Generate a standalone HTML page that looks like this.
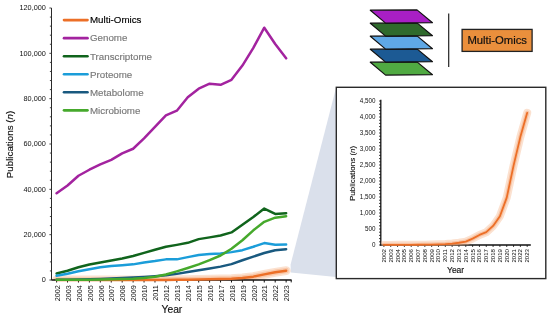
<!DOCTYPE html>
<html><head><meta charset="utf-8"><title>Multi-Omics publications</title>
<style>html,body{margin:0;padding:0;background:#fff}svg{display:block}svg text{font-family:"Liberation Sans",sans-serif}</style></head>
<body>
<svg width="550" height="318" viewBox="0 0 550 318">
<rect width="550" height="318" fill="#fff"/>
<polygon points="290.6,264.5 335.8,88.8 336,277 290.8,272.4" fill="#DAE0EB"/>
<line x1="51.5" y1="8" x2="51.5" y2="280.0" stroke="#2a2a2a" stroke-width="1"/>
<defs><clipPath id="cm"><rect x="52" y="0" width="245" height="280.6"/></clipPath><clipPath id="ci"><rect x="381" y="90" width="160" height="155.4"/></clipPath></defs>
<line x1="49.4" y1="280.00" x2="51.5" y2="280.00" stroke="#333" stroke-width="0.9"/>
<line x1="49.9" y1="270.93" x2="51.5" y2="270.93" stroke="#333" stroke-width="0.9"/>
<line x1="49.9" y1="261.87" x2="51.5" y2="261.87" stroke="#333" stroke-width="0.9"/>
<line x1="49.9" y1="252.80" x2="51.5" y2="252.80" stroke="#333" stroke-width="0.9"/>
<line x1="49.9" y1="243.73" x2="51.5" y2="243.73" stroke="#333" stroke-width="0.9"/>
<line x1="49.4" y1="234.67" x2="51.5" y2="234.67" stroke="#333" stroke-width="0.9"/>
<line x1="49.9" y1="225.60" x2="51.5" y2="225.60" stroke="#333" stroke-width="0.9"/>
<line x1="49.9" y1="216.53" x2="51.5" y2="216.53" stroke="#333" stroke-width="0.9"/>
<line x1="49.9" y1="207.47" x2="51.5" y2="207.47" stroke="#333" stroke-width="0.9"/>
<line x1="49.9" y1="198.40" x2="51.5" y2="198.40" stroke="#333" stroke-width="0.9"/>
<line x1="49.4" y1="189.33" x2="51.5" y2="189.33" stroke="#333" stroke-width="0.9"/>
<line x1="49.9" y1="180.27" x2="51.5" y2="180.27" stroke="#333" stroke-width="0.9"/>
<line x1="49.9" y1="171.20" x2="51.5" y2="171.20" stroke="#333" stroke-width="0.9"/>
<line x1="49.9" y1="162.13" x2="51.5" y2="162.13" stroke="#333" stroke-width="0.9"/>
<line x1="49.9" y1="153.07" x2="51.5" y2="153.07" stroke="#333" stroke-width="0.9"/>
<line x1="49.4" y1="144.00" x2="51.5" y2="144.00" stroke="#333" stroke-width="0.9"/>
<line x1="49.9" y1="134.93" x2="51.5" y2="134.93" stroke="#333" stroke-width="0.9"/>
<line x1="49.9" y1="125.87" x2="51.5" y2="125.87" stroke="#333" stroke-width="0.9"/>
<line x1="49.9" y1="116.80" x2="51.5" y2="116.80" stroke="#333" stroke-width="0.9"/>
<line x1="49.9" y1="107.73" x2="51.5" y2="107.73" stroke="#333" stroke-width="0.9"/>
<line x1="49.4" y1="98.67" x2="51.5" y2="98.67" stroke="#333" stroke-width="0.9"/>
<line x1="49.9" y1="89.60" x2="51.5" y2="89.60" stroke="#333" stroke-width="0.9"/>
<line x1="49.9" y1="80.53" x2="51.5" y2="80.53" stroke="#333" stroke-width="0.9"/>
<line x1="49.9" y1="71.47" x2="51.5" y2="71.47" stroke="#333" stroke-width="0.9"/>
<line x1="49.9" y1="62.40" x2="51.5" y2="62.40" stroke="#333" stroke-width="0.9"/>
<line x1="49.4" y1="53.33" x2="51.5" y2="53.33" stroke="#333" stroke-width="0.9"/>
<line x1="49.9" y1="44.27" x2="51.5" y2="44.27" stroke="#333" stroke-width="0.9"/>
<line x1="49.9" y1="35.20" x2="51.5" y2="35.20" stroke="#333" stroke-width="0.9"/>
<line x1="49.9" y1="26.13" x2="51.5" y2="26.13" stroke="#333" stroke-width="0.9"/>
<line x1="49.9" y1="17.07" x2="51.5" y2="17.07" stroke="#333" stroke-width="0.9"/>
<line x1="49.4" y1="8.00" x2="51.5" y2="8.00" stroke="#333" stroke-width="0.9"/>
<text x="45.9" y="282.20" font-size="7.3" text-anchor="end" fill="#111">0</text>
<text x="45.9" y="236.87" font-size="7.3" text-anchor="end" fill="#111">20,000</text>
<text x="45.9" y="191.53" font-size="7.3" text-anchor="end" fill="#111">40,000</text>
<text x="45.9" y="146.20" font-size="7.3" text-anchor="end" fill="#111">60,000</text>
<text x="45.9" y="100.87" font-size="7.3" text-anchor="end" fill="#111">80,000</text>
<text x="45.9" y="55.53" font-size="7.3" text-anchor="end" fill="#111">100,000</text>
<text x="45.9" y="10.20" font-size="7.3" text-anchor="end" fill="#111">120,000</text>
<line x1="56.60" y1="280.0" x2="56.60" y2="282.5" stroke="#111" stroke-width="1"/>
<text transform="translate(59.80,285.2) rotate(-90)" font-size="7.2" text-anchor="end" fill="#111">2002</text>
<line x1="67.53" y1="280.0" x2="67.53" y2="282.5" stroke="#111" stroke-width="1"/>
<text transform="translate(70.73,285.2) rotate(-90)" font-size="7.2" text-anchor="end" fill="#111">2003</text>
<line x1="78.46" y1="280.0" x2="78.46" y2="282.5" stroke="#111" stroke-width="1"/>
<text transform="translate(81.66,285.2) rotate(-90)" font-size="7.2" text-anchor="end" fill="#111">2004</text>
<line x1="89.39" y1="280.0" x2="89.39" y2="282.5" stroke="#111" stroke-width="1"/>
<text transform="translate(92.59,285.2) rotate(-90)" font-size="7.2" text-anchor="end" fill="#111">2005</text>
<line x1="100.32" y1="280.0" x2="100.32" y2="282.5" stroke="#111" stroke-width="1"/>
<text transform="translate(103.52,285.2) rotate(-90)" font-size="7.2" text-anchor="end" fill="#111">2006</text>
<line x1="111.25" y1="280.0" x2="111.25" y2="282.5" stroke="#111" stroke-width="1"/>
<text transform="translate(114.45,285.2) rotate(-90)" font-size="7.2" text-anchor="end" fill="#111">2007</text>
<line x1="122.18" y1="280.0" x2="122.18" y2="282.5" stroke="#111" stroke-width="1"/>
<text transform="translate(125.38,285.2) rotate(-90)" font-size="7.2" text-anchor="end" fill="#111">2008</text>
<line x1="133.11" y1="280.0" x2="133.11" y2="282.5" stroke="#111" stroke-width="1"/>
<text transform="translate(136.31,285.2) rotate(-90)" font-size="7.2" text-anchor="end" fill="#111">2009</text>
<line x1="144.04" y1="280.0" x2="144.04" y2="282.5" stroke="#111" stroke-width="1"/>
<text transform="translate(147.24,285.2) rotate(-90)" font-size="7.2" text-anchor="end" fill="#111">2010</text>
<line x1="154.97" y1="280.0" x2="154.97" y2="282.5" stroke="#111" stroke-width="1"/>
<text transform="translate(158.17,285.2) rotate(-90)" font-size="7.2" text-anchor="end" fill="#111">2011</text>
<line x1="165.90" y1="280.0" x2="165.90" y2="282.5" stroke="#111" stroke-width="1"/>
<text transform="translate(169.10,285.2) rotate(-90)" font-size="7.2" text-anchor="end" fill="#111">2012</text>
<line x1="176.83" y1="280.0" x2="176.83" y2="282.5" stroke="#111" stroke-width="1"/>
<text transform="translate(180.03,285.2) rotate(-90)" font-size="7.2" text-anchor="end" fill="#111">2013</text>
<line x1="187.76" y1="280.0" x2="187.76" y2="282.5" stroke="#111" stroke-width="1"/>
<text transform="translate(190.96,285.2) rotate(-90)" font-size="7.2" text-anchor="end" fill="#111">2014</text>
<line x1="198.69" y1="280.0" x2="198.69" y2="282.5" stroke="#111" stroke-width="1"/>
<text transform="translate(201.89,285.2) rotate(-90)" font-size="7.2" text-anchor="end" fill="#111">2015</text>
<line x1="209.62" y1="280.0" x2="209.62" y2="282.5" stroke="#111" stroke-width="1"/>
<text transform="translate(212.82,285.2) rotate(-90)" font-size="7.2" text-anchor="end" fill="#111">2016</text>
<line x1="220.55" y1="280.0" x2="220.55" y2="282.5" stroke="#111" stroke-width="1"/>
<text transform="translate(223.75,285.2) rotate(-90)" font-size="7.2" text-anchor="end" fill="#111">2017</text>
<line x1="231.48" y1="280.0" x2="231.48" y2="282.5" stroke="#111" stroke-width="1"/>
<text transform="translate(234.68,285.2) rotate(-90)" font-size="7.2" text-anchor="end" fill="#111">2018</text>
<line x1="242.41" y1="280.0" x2="242.41" y2="282.5" stroke="#111" stroke-width="1"/>
<text transform="translate(245.61,285.2) rotate(-90)" font-size="7.2" text-anchor="end" fill="#111">2019</text>
<line x1="253.34" y1="280.0" x2="253.34" y2="282.5" stroke="#111" stroke-width="1"/>
<text transform="translate(256.54,285.2) rotate(-90)" font-size="7.2" text-anchor="end" fill="#111">2020</text>
<line x1="264.27" y1="280.0" x2="264.27" y2="282.5" stroke="#111" stroke-width="1"/>
<text transform="translate(267.47,285.2) rotate(-90)" font-size="7.2" text-anchor="end" fill="#111">2021</text>
<line x1="275.20" y1="280.0" x2="275.20" y2="282.5" stroke="#111" stroke-width="1"/>
<text transform="translate(278.40,285.2) rotate(-90)" font-size="7.2" text-anchor="end" fill="#111">2022</text>
<line x1="286.13" y1="280.0" x2="286.13" y2="282.5" stroke="#111" stroke-width="1"/>
<text transform="translate(289.33,285.2) rotate(-90)" font-size="7.2" text-anchor="end" fill="#111">2023</text>
<text transform="translate(13.1,144.5) rotate(-90)" font-size="9.8" text-anchor="middle" fill="#111" stroke="#111" stroke-width="0.15">Publications (<tspan font-style="italic">n</tspan>)</text>
<text x="171.9" y="313.4" font-size="10.3" text-anchor="middle" fill="#111" stroke="#111" stroke-width="0.15">Year</text>
<g clip-path="url(#cm)"><polyline points="56.60,280.00 67.53,279.99 78.46,279.99 89.39,279.99 100.32,279.99 111.25,279.98 122.18,279.98 133.11,279.97 144.04,279.95 154.97,279.93 165.90,279.90 176.83,279.84 187.76,279.76 198.69,279.55 209.62,279.29 220.55,279.09 231.48,278.65 242.41,277.96 253.34,276.65 264.27,274.38 275.20,272.34 286.13,270.64" fill="none" stroke="#F6B48A" stroke-opacity="0.4" stroke-width="9" stroke-linecap="round" stroke-linejoin="round"/>
<polyline points="56.60,280.00 67.53,279.99 78.46,279.99 89.39,279.99 100.32,279.99 111.25,279.98 122.18,279.98 133.11,279.97 144.04,279.95 154.97,279.93 165.90,279.90 176.83,279.84 187.76,279.76 198.69,279.55 209.62,279.29 220.55,279.09 231.48,278.65 242.41,277.96 253.34,276.65 264.27,274.38 275.20,272.34 286.13,270.64" fill="none" stroke="#F6A878" stroke-opacity="0.45" stroke-width="5.5" stroke-linecap="round" stroke-linejoin="round"/></g>
<line x1="51.4" y1="280.0" x2="291.6" y2="280.0" stroke="#111" stroke-width="1.5"/><line x1="291.2" y1="280.0" x2="291.2" y2="282.4" stroke="#111" stroke-width="1"/>
<polyline points="56.60,280.00 67.53,279.99 78.46,279.99 89.39,279.99 100.32,279.99 111.25,279.98 122.18,279.98 133.11,279.97 144.04,279.95 154.97,279.93 165.90,279.90 176.83,279.84 187.76,279.76 198.69,279.55 209.62,279.29 220.55,279.09 231.48,278.65 242.41,277.96 253.34,276.65 264.27,274.38 275.20,272.34 286.13,270.64" fill="none" stroke="#EC6F27" stroke-width="2.5" stroke-linecap="round" stroke-linejoin="round"/>
<polyline points="56.60,193.30 67.53,185.48 78.46,175.73 89.39,169.73 100.32,164.40 111.25,159.87 122.18,153.41 133.11,148.76 144.04,138.33 154.97,126.77 165.90,115.44 176.83,110.68 187.76,97.31 198.69,88.69 209.62,83.71 220.55,84.84 231.48,79.85 242.41,65.57 253.34,47.89 264.27,27.72 275.20,44.04 286.13,58.32" fill="none" stroke="#A3239F" stroke-width="2.5" stroke-linecap="round" stroke-linejoin="round"/>
<polyline points="56.60,273.54 67.53,270.71 78.46,267.31 89.39,264.47 100.32,262.50 111.25,260.51 122.18,258.53 133.11,256.00 144.04,252.89 154.97,249.76 165.90,246.68 176.83,244.87 187.76,242.83 198.69,239.11 209.62,237.39 220.55,235.46 231.48,232.40 242.41,224.69 253.34,216.99 264.27,208.60 275.20,213.93 286.13,213.13" fill="none" stroke="#10641C" stroke-width="2.5" stroke-linecap="round" stroke-linejoin="round"/>
<polyline points="56.60,275.81 67.53,273.81 78.46,271.27 89.39,269.30 100.32,267.31 111.25,265.90 122.18,265.15 133.11,264.36 144.04,262.43 154.97,261.07 165.90,259.37 176.83,259.37 187.76,257.11 198.69,255.07 209.62,254.05 220.55,253.48 231.48,252.12 242.41,250.15 253.34,246.75 264.27,243.08 275.20,244.78 286.13,244.50" fill="none" stroke="#1B9DD9" stroke-width="2.5" stroke-linecap="round" stroke-linejoin="round"/>
<polyline points="56.60,279.77 67.53,279.66 78.46,279.50 89.39,279.27 100.32,278.98 111.25,278.59 122.18,278.07 133.11,277.55 144.04,276.94 154.97,276.15 165.90,275.24 176.83,273.88 187.76,272.07 198.69,270.25 209.62,268.55 220.55,266.63 231.48,264.13 242.41,260.28 253.34,256.65 264.27,253.03 275.20,250.19 286.13,249.17" fill="none" stroke="#19597F" stroke-width="2.5" stroke-linecap="round" stroke-linejoin="round"/>
<polyline points="56.60,279.86 67.53,279.82 78.46,279.75 89.39,279.66 100.32,279.52 111.25,279.32 122.18,279.05 133.11,278.64 144.04,277.96 154.97,276.83 165.90,274.56 176.83,271.39 187.76,267.99 198.69,264.36 209.62,260.17 220.55,255.52 231.48,248.72 242.41,240.24 253.34,230.36 264.27,221.86 275.20,217.67 286.13,216.19" fill="none" stroke="#46A92C" stroke-width="2.5" stroke-linecap="round" stroke-linejoin="round"/>
<line x1="64" y1="20.10" x2="87.5" y2="20.10" stroke="#EC6F27" stroke-width="2.6" stroke-linecap="round"/>
<text x="90" y="23.40" font-size="9.75" fill="#000" stroke="#000" stroke-width="0.15">Multi-Omics</text>
<line x1="64" y1="38.15" x2="87.5" y2="38.15" stroke="#A3239F" stroke-width="2.6" stroke-linecap="round"/>
<text x="90" y="41.45" font-size="9.75" fill="#787878" stroke="#787878" stroke-width="0.15">Genome</text>
<line x1="64" y1="56.20" x2="87.5" y2="56.20" stroke="#10641C" stroke-width="2.6" stroke-linecap="round"/>
<text x="90" y="59.50" font-size="9.75" fill="#787878" stroke="#787878" stroke-width="0.15">Transcriptome</text>
<line x1="64" y1="74.25" x2="87.5" y2="74.25" stroke="#1B9DD9" stroke-width="2.6" stroke-linecap="round"/>
<text x="90" y="77.55" font-size="9.75" fill="#787878" stroke="#787878" stroke-width="0.15">Proteome</text>
<line x1="64" y1="92.30" x2="87.5" y2="92.30" stroke="#19597F" stroke-width="2.6" stroke-linecap="round"/>
<text x="90" y="95.60" font-size="9.75" fill="#787878" stroke="#787878" stroke-width="0.15">Metabolome</text>
<line x1="64" y1="110.35" x2="87.5" y2="110.35" stroke="#46A92C" stroke-width="2.6" stroke-linecap="round"/>
<text x="90" y="113.65" font-size="9.75" fill="#787878" stroke="#787878" stroke-width="0.15">Microbiome</text>
<polygon points="370.3,62.2 417,61.9 432.5,74.7 385.6,75.1" fill="#50AA42" stroke="#111" stroke-width="1.2" stroke-linejoin="round"/>
<polygon points="370.3,49.2 417,48.9 432.5,61.7 385.6,62.1" fill="#1C5A94" stroke="#111" stroke-width="1.2" stroke-linejoin="round"/>
<polygon points="370.3,36.2 417,35.9 432.5,48.7 385.6,49.1" fill="#5FA8E6" stroke="#111" stroke-width="1.2" stroke-linejoin="round"/>
<polygon points="370.3,23.2 417,22.9 432.5,35.7 385.6,36.1" fill="#2F6A2C" stroke="#111" stroke-width="1.2" stroke-linejoin="round"/>
<polygon points="370.3,10.2 417,9.9 432.5,22.7 385.6,23.1" fill="#A81FC4" stroke="#111" stroke-width="1.2" stroke-linejoin="round"/>
<line x1="448.7" y1="13.5" x2="448.7" y2="67" stroke="#222" stroke-width="1.2"/>
<rect x="462.1" y="29.4" width="70" height="22" fill="#EA8F3C" stroke="#222" stroke-width="1.3"/>
<text x="497.2" y="44.3" font-size="11.3" text-anchor="middle" fill="#111" stroke="#111" stroke-width="0.2">Multi-Omics</text>
<rect x="336.3" y="87.3" width="209.5" height="191.3" fill="#fff" stroke="#2a2a2a" stroke-width="1.4"/>
<line x1="380.8" y1="99.7" x2="380.8" y2="245.6" stroke="#111" stroke-width="1.3"/>
<line x1="380.2" y1="245.0" x2="530.8" y2="245.0" stroke="#111" stroke-width="1.3"/>
<line x1="379" y1="245.00" x2="380.8" y2="245.00" stroke="#111" stroke-width="0.8"/>
<line x1="379" y1="241.80" x2="380.8" y2="241.80" stroke="#111" stroke-width="0.8"/>
<line x1="379" y1="238.60" x2="380.8" y2="238.60" stroke="#111" stroke-width="0.8"/>
<line x1="379" y1="235.40" x2="380.8" y2="235.40" stroke="#111" stroke-width="0.8"/>
<line x1="379" y1="232.20" x2="380.8" y2="232.20" stroke="#111" stroke-width="0.8"/>
<line x1="379" y1="229.00" x2="380.8" y2="229.00" stroke="#111" stroke-width="0.8"/>
<line x1="379" y1="225.80" x2="380.8" y2="225.80" stroke="#111" stroke-width="0.8"/>
<line x1="379" y1="222.60" x2="380.8" y2="222.60" stroke="#111" stroke-width="0.8"/>
<line x1="379" y1="219.40" x2="380.8" y2="219.40" stroke="#111" stroke-width="0.8"/>
<line x1="379" y1="216.20" x2="380.8" y2="216.20" stroke="#111" stroke-width="0.8"/>
<line x1="379" y1="213.00" x2="380.8" y2="213.00" stroke="#111" stroke-width="0.8"/>
<line x1="379" y1="209.80" x2="380.8" y2="209.80" stroke="#111" stroke-width="0.8"/>
<line x1="379" y1="206.60" x2="380.8" y2="206.60" stroke="#111" stroke-width="0.8"/>
<line x1="379" y1="203.40" x2="380.8" y2="203.40" stroke="#111" stroke-width="0.8"/>
<line x1="379" y1="200.20" x2="380.8" y2="200.20" stroke="#111" stroke-width="0.8"/>
<line x1="379" y1="197.00" x2="380.8" y2="197.00" stroke="#111" stroke-width="0.8"/>
<line x1="379" y1="193.80" x2="380.8" y2="193.80" stroke="#111" stroke-width="0.8"/>
<line x1="379" y1="190.60" x2="380.8" y2="190.60" stroke="#111" stroke-width="0.8"/>
<line x1="379" y1="187.40" x2="380.8" y2="187.40" stroke="#111" stroke-width="0.8"/>
<line x1="379" y1="184.20" x2="380.8" y2="184.20" stroke="#111" stroke-width="0.8"/>
<line x1="379" y1="181.00" x2="380.8" y2="181.00" stroke="#111" stroke-width="0.8"/>
<line x1="379" y1="177.80" x2="380.8" y2="177.80" stroke="#111" stroke-width="0.8"/>
<line x1="379" y1="174.60" x2="380.8" y2="174.60" stroke="#111" stroke-width="0.8"/>
<line x1="379" y1="171.40" x2="380.8" y2="171.40" stroke="#111" stroke-width="0.8"/>
<line x1="379" y1="168.20" x2="380.8" y2="168.20" stroke="#111" stroke-width="0.8"/>
<line x1="379" y1="165.00" x2="380.8" y2="165.00" stroke="#111" stroke-width="0.8"/>
<line x1="379" y1="161.80" x2="380.8" y2="161.80" stroke="#111" stroke-width="0.8"/>
<line x1="379" y1="158.60" x2="380.8" y2="158.60" stroke="#111" stroke-width="0.8"/>
<line x1="379" y1="155.40" x2="380.8" y2="155.40" stroke="#111" stroke-width="0.8"/>
<line x1="379" y1="152.20" x2="380.8" y2="152.20" stroke="#111" stroke-width="0.8"/>
<line x1="379" y1="149.00" x2="380.8" y2="149.00" stroke="#111" stroke-width="0.8"/>
<line x1="379" y1="145.80" x2="380.8" y2="145.80" stroke="#111" stroke-width="0.8"/>
<line x1="379" y1="142.60" x2="380.8" y2="142.60" stroke="#111" stroke-width="0.8"/>
<line x1="379" y1="139.40" x2="380.8" y2="139.40" stroke="#111" stroke-width="0.8"/>
<line x1="379" y1="136.20" x2="380.8" y2="136.20" stroke="#111" stroke-width="0.8"/>
<line x1="379" y1="133.00" x2="380.8" y2="133.00" stroke="#111" stroke-width="0.8"/>
<line x1="379" y1="129.80" x2="380.8" y2="129.80" stroke="#111" stroke-width="0.8"/>
<line x1="379" y1="126.60" x2="380.8" y2="126.60" stroke="#111" stroke-width="0.8"/>
<line x1="379" y1="123.40" x2="380.8" y2="123.40" stroke="#111" stroke-width="0.8"/>
<line x1="379" y1="120.20" x2="380.8" y2="120.20" stroke="#111" stroke-width="0.8"/>
<line x1="379" y1="117.00" x2="380.8" y2="117.00" stroke="#111" stroke-width="0.8"/>
<line x1="379" y1="113.80" x2="380.8" y2="113.80" stroke="#111" stroke-width="0.8"/>
<line x1="379" y1="110.60" x2="380.8" y2="110.60" stroke="#111" stroke-width="0.8"/>
<line x1="379" y1="107.40" x2="380.8" y2="107.40" stroke="#111" stroke-width="0.8"/>
<line x1="379" y1="104.20" x2="380.8" y2="104.20" stroke="#111" stroke-width="0.8"/>
<line x1="379" y1="101.00" x2="380.8" y2="101.00" stroke="#111" stroke-width="0.8"/>
<text x="375.6" y="246.50" font-size="6.3" text-anchor="end" fill="#111">0</text>
<text x="375.6" y="230.50" font-size="6.3" text-anchor="end" fill="#111">500</text>
<text x="375.6" y="214.50" font-size="6.3" text-anchor="end" fill="#111">1,000</text>
<text x="375.6" y="198.50" font-size="6.3" text-anchor="end" fill="#111">1,500</text>
<text x="375.6" y="182.50" font-size="6.3" text-anchor="end" fill="#111">2,000</text>
<text x="375.6" y="166.50" font-size="6.3" text-anchor="end" fill="#111">2,500</text>
<text x="375.6" y="150.50" font-size="6.3" text-anchor="end" fill="#111">3,000</text>
<text x="375.6" y="134.50" font-size="6.3" text-anchor="end" fill="#111">3,500</text>
<text x="375.6" y="118.50" font-size="6.3" text-anchor="end" fill="#111">4,000</text>
<text x="375.6" y="102.50" font-size="6.3" text-anchor="end" fill="#111">4,500</text>
<line x1="383.90" y1="245.0" x2="383.90" y2="247.0" stroke="#111" stroke-width="0.8"/>
<text transform="translate(385.90,249.0) rotate(-90)" font-size="6.1" text-anchor="end" fill="#111">2002</text>
<line x1="390.72" y1="245.0" x2="390.72" y2="247.0" stroke="#111" stroke-width="0.8"/>
<text transform="translate(392.72,249.0) rotate(-90)" font-size="6.1" text-anchor="end" fill="#111">2003</text>
<line x1="397.55" y1="245.0" x2="397.55" y2="247.0" stroke="#111" stroke-width="0.8"/>
<text transform="translate(399.55,249.0) rotate(-90)" font-size="6.1" text-anchor="end" fill="#111">2004</text>
<line x1="404.37" y1="245.0" x2="404.37" y2="247.0" stroke="#111" stroke-width="0.8"/>
<text transform="translate(406.37,249.0) rotate(-90)" font-size="6.1" text-anchor="end" fill="#111">2005</text>
<line x1="411.20" y1="245.0" x2="411.20" y2="247.0" stroke="#111" stroke-width="0.8"/>
<text transform="translate(413.20,249.0) rotate(-90)" font-size="6.1" text-anchor="end" fill="#111">2006</text>
<line x1="418.02" y1="245.0" x2="418.02" y2="247.0" stroke="#111" stroke-width="0.8"/>
<text transform="translate(420.02,249.0) rotate(-90)" font-size="6.1" text-anchor="end" fill="#111">2007</text>
<line x1="424.84" y1="245.0" x2="424.84" y2="247.0" stroke="#111" stroke-width="0.8"/>
<text transform="translate(426.84,249.0) rotate(-90)" font-size="6.1" text-anchor="end" fill="#111">2008</text>
<line x1="431.67" y1="245.0" x2="431.67" y2="247.0" stroke="#111" stroke-width="0.8"/>
<text transform="translate(433.67,249.0) rotate(-90)" font-size="6.1" text-anchor="end" fill="#111">2009</text>
<line x1="438.49" y1="245.0" x2="438.49" y2="247.0" stroke="#111" stroke-width="0.8"/>
<text transform="translate(440.49,249.0) rotate(-90)" font-size="6.1" text-anchor="end" fill="#111">2010</text>
<line x1="445.32" y1="245.0" x2="445.32" y2="247.0" stroke="#111" stroke-width="0.8"/>
<text transform="translate(447.32,249.0) rotate(-90)" font-size="6.1" text-anchor="end" fill="#111">2011</text>
<line x1="452.14" y1="245.0" x2="452.14" y2="247.0" stroke="#111" stroke-width="0.8"/>
<text transform="translate(454.14,249.0) rotate(-90)" font-size="6.1" text-anchor="end" fill="#111">2012</text>
<line x1="458.96" y1="245.0" x2="458.96" y2="247.0" stroke="#111" stroke-width="0.8"/>
<text transform="translate(460.96,249.0) rotate(-90)" font-size="6.1" text-anchor="end" fill="#111">2013</text>
<line x1="465.79" y1="245.0" x2="465.79" y2="247.0" stroke="#111" stroke-width="0.8"/>
<text transform="translate(467.79,249.0) rotate(-90)" font-size="6.1" text-anchor="end" fill="#111">2014</text>
<line x1="472.61" y1="245.0" x2="472.61" y2="247.0" stroke="#111" stroke-width="0.8"/>
<text transform="translate(474.61,249.0) rotate(-90)" font-size="6.1" text-anchor="end" fill="#111">2015</text>
<line x1="479.44" y1="245.0" x2="479.44" y2="247.0" stroke="#111" stroke-width="0.8"/>
<text transform="translate(481.44,249.0) rotate(-90)" font-size="6.1" text-anchor="end" fill="#111">2016</text>
<line x1="486.26" y1="245.0" x2="486.26" y2="247.0" stroke="#111" stroke-width="0.8"/>
<text transform="translate(488.26,249.0) rotate(-90)" font-size="6.1" text-anchor="end" fill="#111">2017</text>
<line x1="493.08" y1="245.0" x2="493.08" y2="247.0" stroke="#111" stroke-width="0.8"/>
<text transform="translate(495.08,249.0) rotate(-90)" font-size="6.1" text-anchor="end" fill="#111">2018</text>
<line x1="499.91" y1="245.0" x2="499.91" y2="247.0" stroke="#111" stroke-width="0.8"/>
<text transform="translate(501.91,249.0) rotate(-90)" font-size="6.1" text-anchor="end" fill="#111">2019</text>
<line x1="506.73" y1="245.0" x2="506.73" y2="247.0" stroke="#111" stroke-width="0.8"/>
<text transform="translate(508.73,249.0) rotate(-90)" font-size="6.1" text-anchor="end" fill="#111">2020</text>
<line x1="513.56" y1="245.0" x2="513.56" y2="247.0" stroke="#111" stroke-width="0.8"/>
<text transform="translate(515.56,249.0) rotate(-90)" font-size="6.1" text-anchor="end" fill="#111">2021</text>
<line x1="520.38" y1="245.0" x2="520.38" y2="247.0" stroke="#111" stroke-width="0.8"/>
<text transform="translate(522.38,249.0) rotate(-90)" font-size="6.1" text-anchor="end" fill="#111">2022</text>
<line x1="527.20" y1="245.0" x2="527.20" y2="247.0" stroke="#111" stroke-width="0.8"/>
<text transform="translate(529.20,249.0) rotate(-90)" font-size="6.1" text-anchor="end" fill="#111">2023</text>
<text transform="translate(355.3,173.4) rotate(-90)" font-size="8" text-anchor="middle" fill="#111" stroke="#111" stroke-width="0.12">Publications (<tspan font-style="italic">n</tspan>)</text>
<text x="455.6" y="272.9" font-size="8.5" text-anchor="middle" fill="#111" stroke="#111" stroke-width="0.15">Year</text>
<g clip-path="url(#ci)"><polyline points="383.90,244.94 390.72,244.90 397.55,244.87 404.37,244.84 411.20,244.81 418.02,244.74 424.84,244.68 431.67,244.55 438.49,244.36 445.32,244.04 452.14,243.56 458.96,242.76 465.79,241.61 472.61,238.60 479.44,234.92 486.26,232.20 493.08,225.96 499.91,216.20 506.73,197.64 513.56,165.64 520.38,136.84 527.20,112.84" fill="none" stroke="#F6B48A" stroke-opacity="0.4" stroke-width="8" stroke-linecap="round" stroke-linejoin="round"/>
<polyline points="383.90,244.94 390.72,244.90 397.55,244.87 404.37,244.84 411.20,244.81 418.02,244.74 424.84,244.68 431.67,244.55 438.49,244.36 445.32,244.04 452.14,243.56 458.96,242.76 465.79,241.61 472.61,238.60 479.44,234.92 486.26,232.20 493.08,225.96 499.91,216.20 506.73,197.64 513.56,165.64 520.38,136.84 527.20,112.84" fill="none" stroke="#F6A878" stroke-opacity="0.5" stroke-width="4.2" stroke-linecap="round" stroke-linejoin="round"/></g>
<polyline points="383.90,244.94 390.72,244.90 397.55,244.87 404.37,244.84 411.20,244.81 418.02,244.74 424.84,244.68 431.67,244.55 438.49,244.36 445.32,244.04 452.14,243.56 458.96,242.76 465.79,241.61 472.61,238.60 479.44,234.92 486.26,232.20 493.08,225.96 499.91,216.20 506.73,197.64 513.56,165.64 520.38,136.84 527.20,112.84" fill="none" stroke="#EC6F27" stroke-width="1.8" stroke-linecap="round" stroke-linejoin="round"/>
</svg>
</body></html>
